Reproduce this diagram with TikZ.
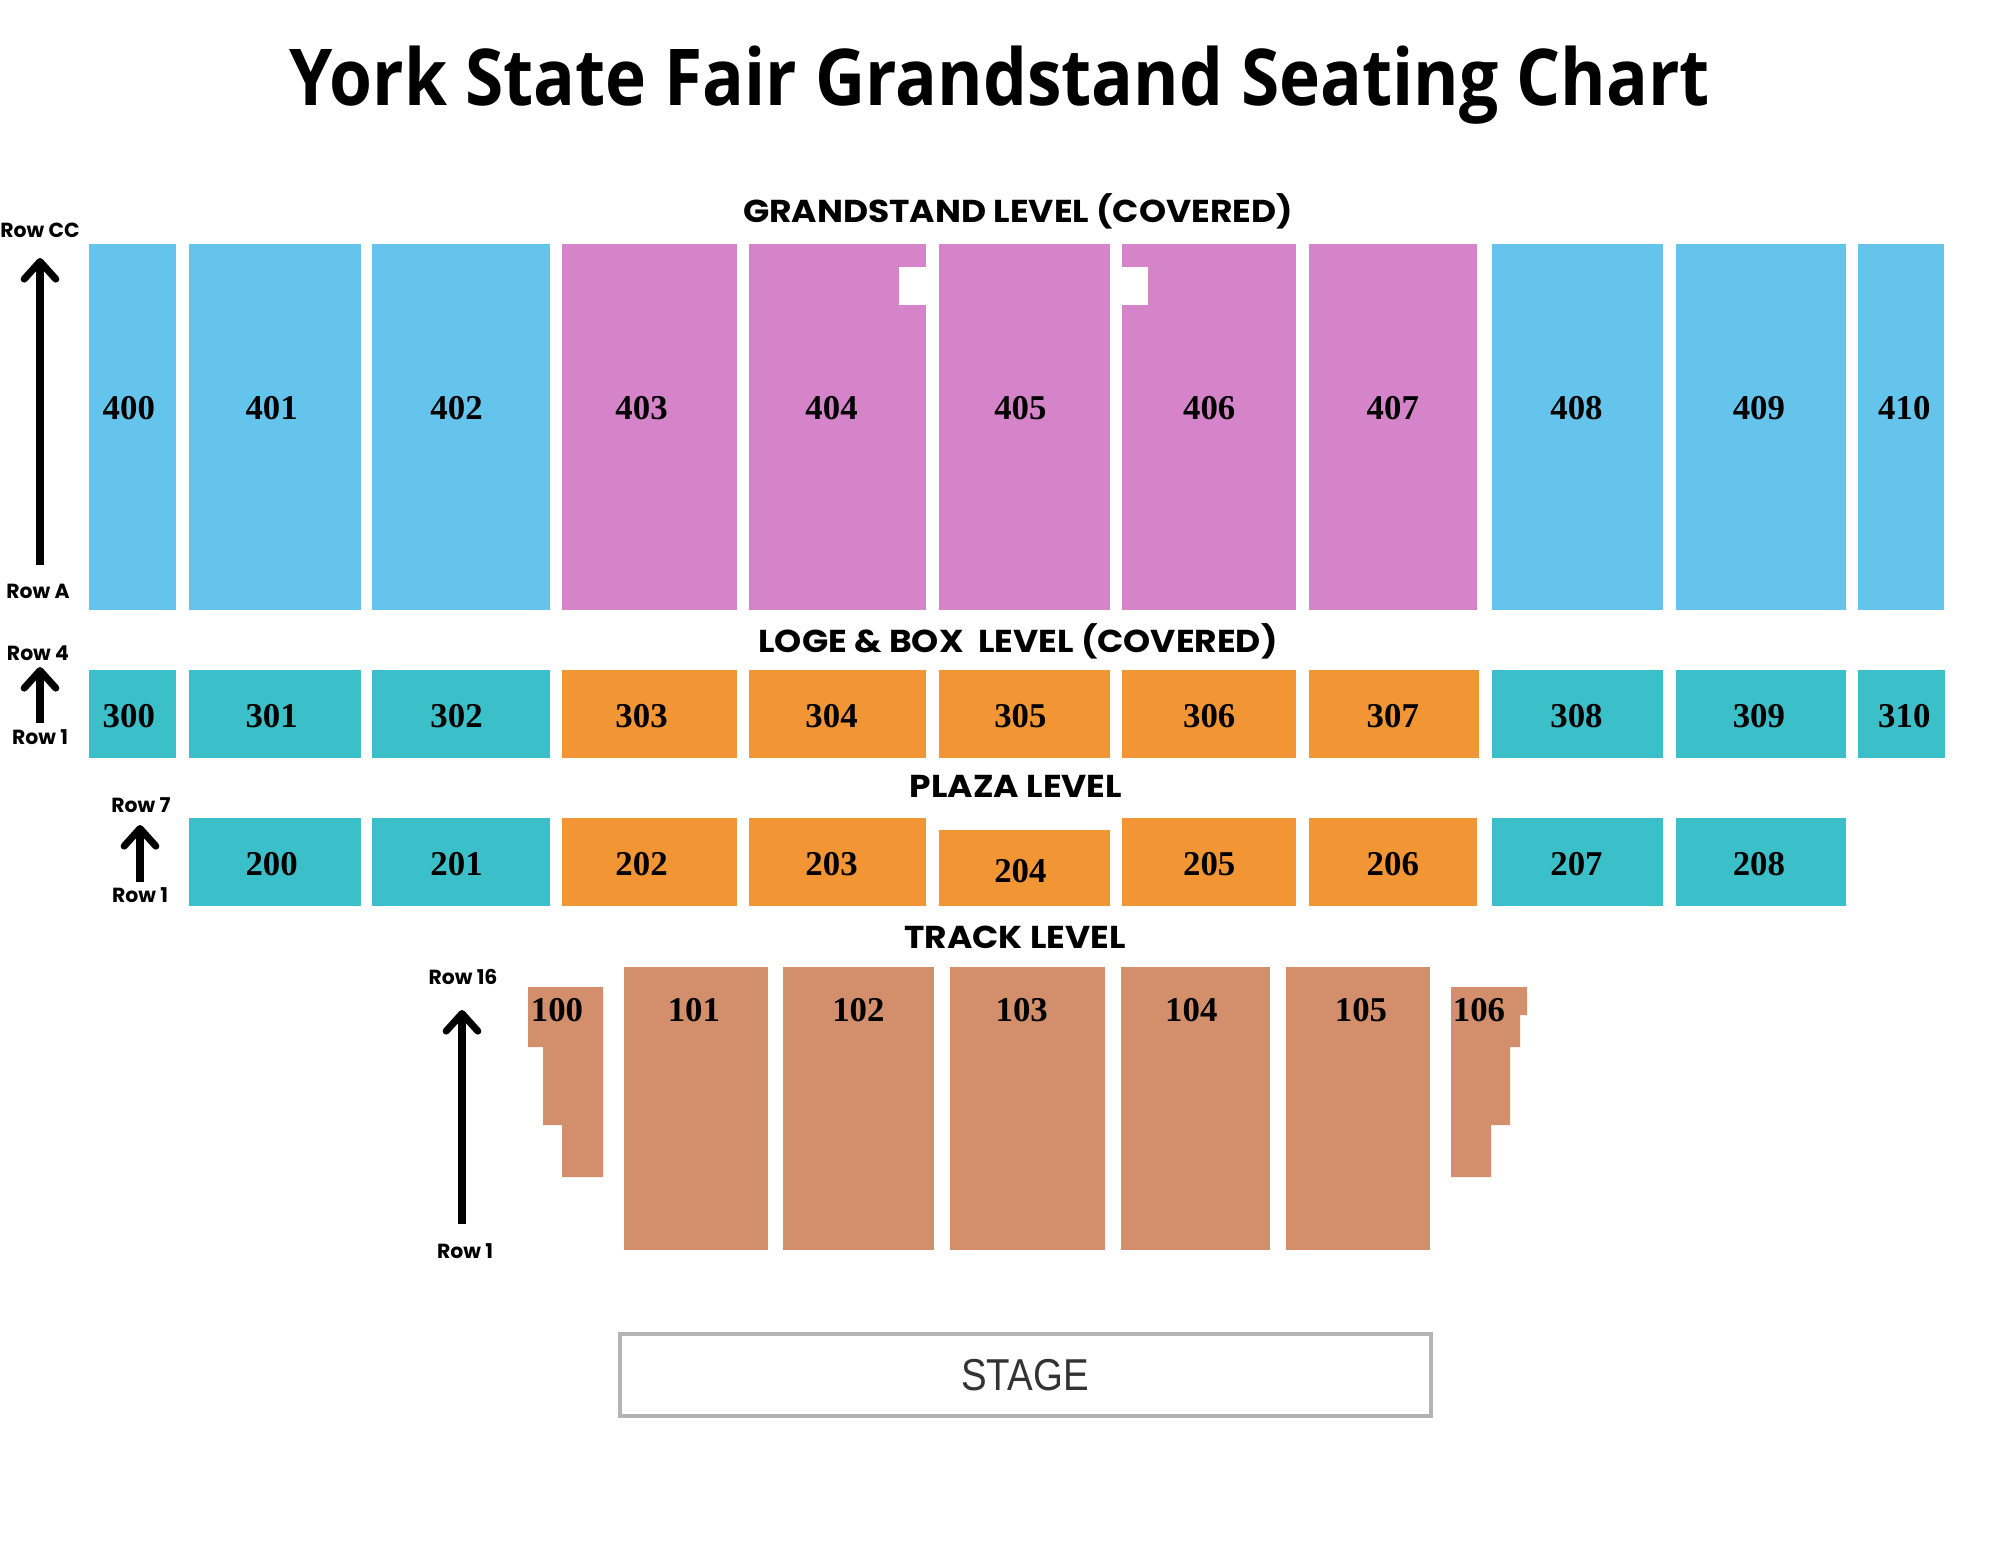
\documentclass[tikz,border=0pt]{standalone}
\usepackage{fontspec}
\setmainfont{Liberation Serif}
\newfontfamily\titlefont{Open Sans}
\newfontfamily\popfont{Poppins}
\newfontfamily\stagefont{Liberation Sans}
\usetikzlibrary{arrows.meta}
\definecolor{gsblue}{HTML}{64C4EB}
\definecolor{gspink}{HTML}{D684C9}
\definecolor{lteal}{HTML}{3BBFC9}
\definecolor{lorange}{HTML}{F29534}
\definecolor{trk}{HTML}{D38F6B}
\definecolor{stagegray}{HTML}{B4B4B4}
\tikzset{
  sn/.style={font=\fontsize{9.9}{11}\selectfont\bfseries, inner sep=0pt},
  lvl/.style={font=\popfont\fontsize{9}{10}\selectfont\bfseries, inner sep=0pt, anchor=base},
  rowlbl/.style={font=\popfont\fontsize{5.8}{6.5}\selectfont\bfseries, inner sep=0pt},
  rowarrow/.style={line width=2pt, -{Straight Barb[round,length=5pt,width=9pt]}},
}
\newcommand\lvltext[1]{\scalebox{1.09}[1]{#1}}
\begin{document}
\begin{tikzpicture}[x=0.01cm,y=-0.01cm]
\useasboundingbox (0,0) rectangle (2000,1545);
\fill[white] (0,0) rectangle (2000,1545);

% title
\node[font=\titlefont\fontsize{22.3}{26}\selectfont\bfseries, anchor=base, inner sep=0pt] (title) at (1000,105)
  {\scalebox{0.885}[1]{York State Fair Grandstand Seating Chart}};

% level labels
\node[lvl] (lgs) at (1018,222) {\lvltext{GRANDSTAND LEVEL (COVERED)}};
\node[lvl] (llb) at (1018,652) {\lvltext{LOGE \& BOX\ \ LEVEL (COVERED)}};
\node[lvl] (lpl) at (1016,797) {\lvltext{PLAZA LEVEL}};
\node[lvl] (ltr) at (1015,948) {\lvltext{TRACK LEVEL}};

% grandstand level
\foreach \a/\b/\x/\n/\c in {89/176/128.8/400/gsblue, 189/361/271.7/401/gsblue, 372/550/456.6/402/gsblue,
   562/737/641.6/403/gspink, 749/926/831.6/404/gspink, 939/1110/1020.4/405/gspink, 1122/1296/1209.2/406/gspink,
   1309/1477/1392.8/407/gspink, 1492/1663/1576.5/408/gsblue, 1676/1846/1758.9/409/gsblue, 1858/1944/1904.3/410/gsblue}{
  \fill[\c] (\a,244) rectangle (\b,610);
  \node[sn] (s\n) at (\x,408) {\n};
}
\fill[white] (899,267) rectangle (927,305);
\fill[white] (1122,267) rectangle (1148,305);

% loge & box level
\foreach \a/\b/\x/\n/\c in {89/176/128.8/300/lteal, 189/361/271.7/301/lteal, 372/550/456.6/302/lteal,
   562/737/641.6/303/lorange, 749/926/831.6/304/lorange, 939/1110/1020.4/305/lorange, 1122/1296/1209.2/306/lorange,
   1309/1479/1392.8/307/lorange, 1492/1663/1576.5/308/lteal, 1676/1846/1758.9/309/lteal, 1858/1945/1904.3/310/lteal}{
  \fill[\c] (\a,670) rectangle (\b,758);
  \node[sn] (s\n) at (\x,716) {\n};
}

% plaza level
\foreach \a/\b/\x/\t/\y/\n/\c in {189/361/271.7/818/864/200/lteal, 372/550/456.6/818/864/201/lteal,
   562/737/641.6/818/864/202/lorange, 749/926/831.6/818/864/203/lorange, 939/1110/1020.4/830/871/204/lorange,
   1122/1296/1209.2/818/864/205/lorange, 1309/1477/1392.8/818/864/206/lorange,
   1492/1663/1576.5/818/864/207/lteal, 1676/1846/1758.9/818/864/208/lteal}{
  \fill[\c] (\a,\t) rectangle (\b,906);
  \node[sn] (s\n) at (\x,\y) {\n};
}

% track level
\foreach \a/\b/\x/\n in {624/768/693.9/101, 783/934/858.4/102, 950/1105/1021.7/103, 1121/1270/1191.3/104, 1286/1430/1361/105}{
  \fill[trk] (\a,967) rectangle (\b,1250);
  \node[sn] (s\n) at (\x,1010) {\n};
}
\fill[trk] (528,987) -- (603,987) -- (603,1177) -- (562,1177) -- (562,1125)
  -- (543,1125) -- (543,1047) -- (528,1047) -- cycle;
\node[sn] (s100) at (557,1010) {100};
\fill[trk] (1451,987) -- (1527,987) -- (1527,1015) -- (1520,1015) -- (1520,1047)
  -- (1510,1047) -- (1510,1125) -- (1491,1125) -- (1491,1177) -- (1451,1177) -- cycle;
\node[sn] (s106) at (1479,1010) {106};

% row labels and arrows
\node[rowlbl] (rcc) at (40,230) {Row CC};
\node[rowlbl] (ra) at (38,591) {Row A};
\coordinate (a1s) at (40,565);
\coordinate (a1e) at (40,258);
\draw[rowarrow] (a1s) -- (a1e);

\node[rowlbl] (r4) at (38,653) {Row 4};
\node[rowlbl] (r1a) at (40,737) {Row 1};
\coordinate (a2s) at (40,723);
\coordinate (a2e) at (40,667);
\draw[rowarrow] (a2s) -- (a2e);

\node[rowlbl] (r7) at (141,805) {Row 7};
\node[rowlbl] (r1b) at (140,895) {Row 1};
\coordinate (a3s) at (140,882);
\coordinate (a3e) at (140,825);
\draw[rowarrow] (a3s) -- (a3e);

\node[rowlbl] (r16) at (463,977) {Row 16};
\node[rowlbl] (r1c) at (465,1251) {Row 1};
\coordinate (a4s) at (462,1224);
\coordinate (a4e) at (462,1010);
\draw[rowarrow] (a4s) -- (a4e);

% stage
\node[draw=stagegray, line width=1.1pt, fill=white, minimum width=811*0.01cm, minimum height=82*0.01cm,
  inner sep=0pt] (stage) at (1025.5,1375) {};
\node[font=\stagefont\fontsize{12.7}{14}\selectfont, text=black!80, inner sep=0pt] (stagetxt) at (1025,1375)
  {\scalebox{0.86}[1]{STAGE}};
\end{tikzpicture}
\end{document}
